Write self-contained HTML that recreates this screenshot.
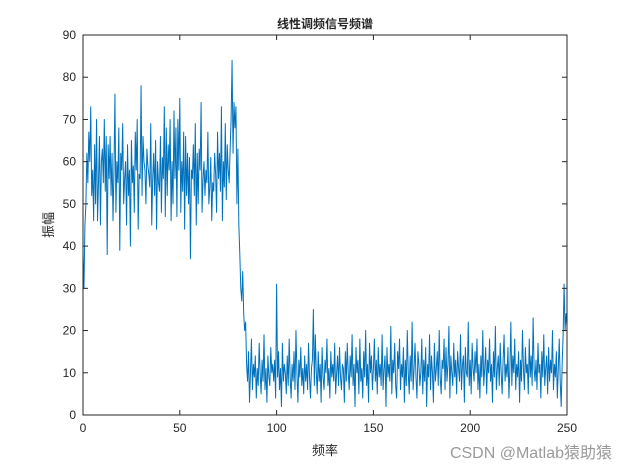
<!DOCTYPE html>
<html><head><meta charset="utf-8"><style>
html,body{margin:0;padding:0;background:#fff;width:629px;height:470px;overflow:hidden}
svg text{font-family:"Liberation Sans","Noto Sans CJK SC",sans-serif;fill:#262626}
</style></head><body>
<svg id="chart" width="629" height="470" xmlns="http://www.w3.org/2000/svg">
<rect x="0" y="0" width="629" height="470" fill="#fff"/>
<text x="325" y="28" text-anchor="middle" font-size="12" font-weight="bold">线性调频信号频谱</text>
<text x="325" y="455" text-anchor="middle" font-size="13">频率</text>
<text transform="translate(53,225) rotate(-90)" text-anchor="middle" font-size="13">振幅</text>
<g id="axes"></g>
<text x="612" y="458" text-anchor="end" font-size="16" style="fill:#9a9a9a">CSDN @Matlab猿助猿</text>
</svg>
<script>
const xTicks=[0,50,100,150,200,250];
const yTicks=[0,10,20,30,40,50,60,70,80,90];
const step=0.5;
const amplitude=[
38,30,45,50,62,55,67,60,73,52,58,46,64,50,70,46,55,66,45,60,
63,55,70,53,66,38,64,56,66,52,62,46,58,76,48,60,55,68,39,62,
58,69,50,56,60,45,64,52,58,40,65,55,59,48,67,58,70,44,57,56,
78,52,66,60,58,50,63,59,57,54,69,45,56,62,52,65,44,60,55,53,
66,48,61,56,73,47,68,52,64,58,70,46,60,50,72,56,68,47,70,58,
75,48,60,53,67,44,66,52,62,50,61,37,58,56,64,52,69,45,62,50,
63,58,74,48,56,60,52,58,55,67,50,54,61,46,55,53,62,57,48,67,
56,62,53,73,46,60,54,69,51,64,
58,55,63,70,84,62,74,68,73,50,63,45,38,30,27,34,24,20,22,
12,8,15,3,10,18,6,12,9,14,4,11,7,17,10,5,13,8,19,6,
11,3,14,9,7,16,10,12,8,13,4,31,9,15,6,11,2,17,8,12,
10,5,14,7,18,9,4,12,8,15,6,20,10,3,13,9,16,7,11,5,
14,8,12,6,17,9,4,11,13,25,7,19,10,5,15,8,12,3,16,9,
6,13,10,18,7,11,4,15,9,12,8,17,5,10,14,7,16,9,6,12,
11,3,15,8,17,10,6,14,9,19,7,12,2,16,10,13,5,18,8,11,
4,15,9,20,7,12,3,17,10,14,6,11,18,8,13,5,16,9,12,7,
19,6,11,14,2,16,9,12,8,21,5,13,10,17,7,4,15,11,18,6,
12,9,16,3,13,7,20,10,5,14,8,22,6,11,17,9,4,15,12,7,
10,18,5,13,8,16,2,12,9,19,6,14,10,3,17,8,11,15,7,20,
9,5,13,11,18,6,16,8,12,21,4,14,10,7,17,9,13,5,15,11,
8,19,6,12,14,3,16,10,9,22,7,13,5,17,11,8,15,10,18,6,
12,4,14,9,20,7,11,16,5,13,10,18,8,12,3,15,9,21,6,11,
14,7,17,10,5,13,19,8,12,9,16,4,11,22,7,14,10,18,6,12,
9,15,3,13,8,20,11,6,16,10,12,5,18,9,14,7,23,11,8,13,
6,17,10,12,4,15,9,19,7,11,14,5,16,8,13,10,20,6,12,9,
15,4,11,18,8,2,12,19,31,20,24,21
];
const L=83,R=567,T=35,B=415;
const sx=v=>L+(v-0)*(R-L)/250;
const sy=v=>B-(v-0)*(B-T)/90;
const NS="http://www.w3.org/2000/svg";
const g=document.getElementById('axes');
function mk(t,a){const e=document.createElementNS(NS,t);for(const k in a)e.setAttribute(k,a[k]);g.appendChild(e);return e;}
const bg=mk('rect',{x:L,y:T,width:R-L,height:B-T,fill:'#fff'});


let d='';
amplitude.forEach((v,i)=>{d+=(i?'L':'M')+sx(i*step).toFixed(2)+','+sy(v).toFixed(2);});
const line=mk('path',{d:d,fill:'none',stroke:'#0072bd','stroke-width':1,'stroke-linejoin':'round'});


const box=mk('rect',{x:L,y:T,width:R-L,height:B-T,fill:'none',stroke:'#262626','stroke-width':1});


xTicks.forEach(t=>{
  const x=sx(t);
  mk('line',{x1:x,y1:B,x2:x,y2:B-5,stroke:'#262626'});
  mk('line',{x1:x,y1:T,x2:x,y2:T+5,stroke:'#262626'});
  const tx=mk('text',{x:x,y:B+17,'text-anchor':'middle','font-size':12});
  tx.textContent=t;
  
  
});
yTicks.forEach(t=>{
  const y=sy(t);
  mk('line',{x1:L,y1:y,x2:L+5,y2:y,stroke:'#262626'});
  mk('line',{x1:R,y1:y,x2:R-5,y2:y,stroke:'#262626'});
  const tx=mk('text',{x:L-7,y:y+4,'text-anchor':'end','font-size':12});
  tx.textContent=t;
  
  
});
</script>
</body></html>
